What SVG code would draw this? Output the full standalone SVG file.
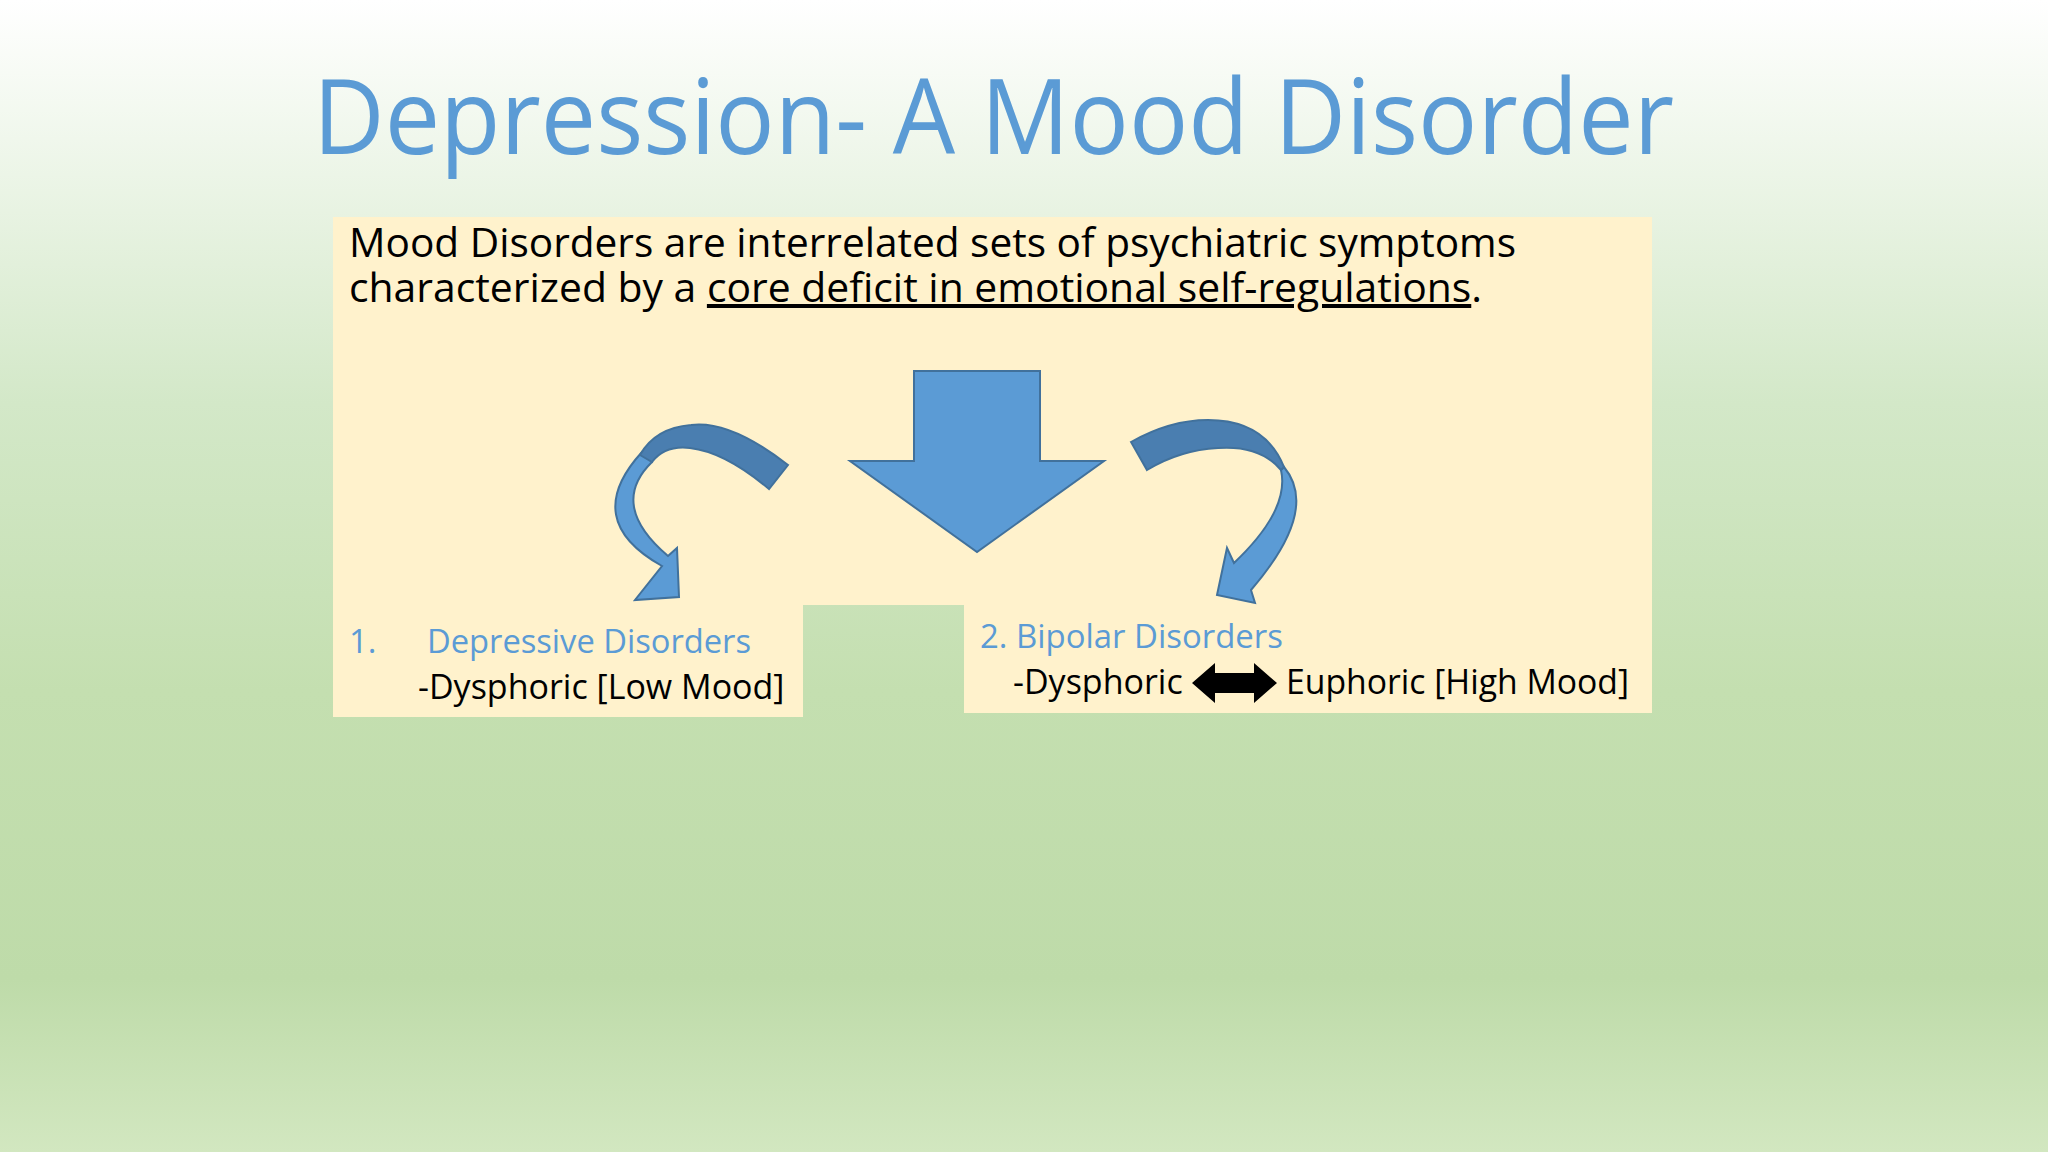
<svg xmlns="http://www.w3.org/2000/svg" width="2048" height="1152" viewBox="0 0 2048 1152">
<defs>
<linearGradient id="bg" x1="0" y1="0" x2="0" y2="1">
<stop offset="0" stop-color="#ffffff"/>
<stop offset="0.35" stop-color="#d3e8c8"/>
<stop offset="0.6" stop-color="#c4dfb0"/>
<stop offset="0.85" stop-color="#bedba9"/>
<stop offset="1" stop-color="#d2e7c0"/>
</linearGradient>
<style>
.box{fill:#fff2cc}
.t{font-family:"Open Sans","Liberation Sans",sans-serif}
.blk{fill:#000;font-size:40px}
.blu{fill:#5b9bd5;font-size:33px}
.sub{fill:#000;font-size:34px}
.arr{fill:#5b9bd5;stroke:#41719c;stroke-width:2}
.dark{fill:#4a7eb0;stroke:#41719c;stroke-width:2}
</style>
</defs>
<rect width="2048" height="1152" fill="url(#bg)"/>
<text class="t" x="313" y="154" font-size="104" fill="#5b9bd5" textLength="1361" lengthAdjust="spacingAndGlyphs">Depression- A Mood Disorder</text>
<g id="main">
<rect class="box" x="333" y="217" width="1319" height="388"/>
<text class="t blk" x="349" y="257" textLength="1167" lengthAdjust="spacingAndGlyphs">Mood Disorders are interrelated sets of psychiatric symptoms</text>
<text class="t blk" x="349" y="302" textLength="1133" lengthAdjust="spacingAndGlyphs">characterized by a <tspan text-decoration="underline">core deficit in emotional self-regulations</tspan>.</text>
</g>
<g id="connectors">
<polygon class="arr" points="914,371 1040,371 1040,461 1104,461 977,552 850,461 914,461"/>
<path class="arr" d="M642,452 Q580,520 662,566 L635,600 L679,597 L677,548 L668,556 Q608,505 652,462 Z"/>
<path class="dark" d="M788,465 Q730,420 691,425 Q655,428 640,455 L652,462 Q665,445 690,448 Q725,452 769,489 Z"/>
<path class="arr" d="M1284,467 Q1320,510 1251,590 L1255,603 L1217,595 L1227,548 L1234,563 Q1290,510 1281,470 Z"/>
<path class="dark" d="M1131,442 Q1170,420 1208,420 Q1265,420 1284,467 L1281,470 Q1260,445 1218,448 Q1180,450 1147,470 Z"/>
</g>
<g id="depressive">
<rect class="box" x="333" y="605" width="470" height="112"/>
<text class="t blu" x="349" y="653">1.</text>
<text class="t blu" x="427" y="653" textLength="324" lengthAdjust="spacingAndGlyphs">Depressive Disorders</text>
<text class="t sub" x="418" y="699">-Dysphoric [Low Mood]</text>
</g>
<g id="bipolar">
<rect class="box" x="964" y="605" width="688" height="108"/>
<text class="t blu" x="980" y="648" textLength="303" lengthAdjust="spacingAndGlyphs">2. Bipolar Disorders</text>
<text class="t sub" x="1013" y="694">-Dysphoric</text>
<polygon fill="#000" points="1192,683 1215,663 1215,673 1254,673 1254,663 1277,683 1254,703 1254,693 1215,693 1215,703"/>
<text class="t sub" x="1286" y="694" textLength="343" lengthAdjust="spacingAndGlyphs">Euphoric [High Mood]</text>
</g>
</svg>
